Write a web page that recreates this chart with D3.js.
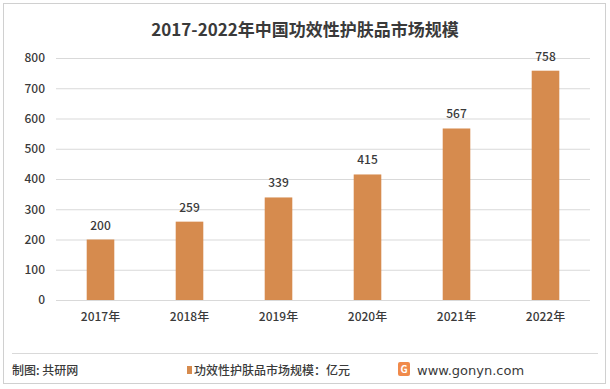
<!DOCTYPE html>
<html>
<head>
<meta charset="utf-8">
<script src="https://cdn.jsdelivr.net/npm/d3@7"></script>
<style>
  body { margin: 0; background: #fff; }
  text { font-family: "Noto Sans CJK SC", "Noto Sans", sans-serif; fill: #3a3a3a; }
</style>
</head>
<body>
<div id="wrapper"></div>
<script>
const years = ["2017年", "2018年", "2019年", "2020年", "2021年", "2022年"]
const marketSize = [200, 259, 339, 415, 567, 758]
const yTicks = [0, 100, 200, 300, 400, 500, 600, 700, 800]

const width = 610
const height = 389
const margin = { top: 58, right: 20, bottom: 89, left: 56 }
const boundedWidth = width - margin.left - margin.right
const boundedHeight = height - margin.top - margin.bottom

const svg = d3.select("#wrapper").append("svg")
  .attr("width", width)
  .attr("height", height)

// frame
svg.append("rect")
  .attr("x", 3.5).attr("y", 3.5)
  .attr("width", 602).attr("height", 380)
  .attr("fill", "none")
  .attr("stroke", "#d0d0d0")

svg.append("text")
  .attr("x", 305).attr("y", 36)
  .attr("text-anchor", "middle")
  .style("font-size", "17px")
  .style("font-weight", "bold")
  .text("2017-2022年中国功效性护肤品市场规模")

const bounds = svg.append("g")
  .attr("transform", `translate(${margin.left},${margin.top})`)

const xScale = d3.scaleBand()
  .domain(years)
  .range([0, boundedWidth])
  .paddingInner(0.69)
  .paddingOuter(0.345)

const yScale = d3.scaleLinear()
  .domain([0, 800])
  .range([boundedHeight, 0])

// grid
bounds.selectAll(".grid")
  .data(yTicks)
  .join("line")
  .attr("x1", 0).attr("x2", boundedWidth)
  .attr("y1", d => yScale(d) + 0.5).attr("y2", d => yScale(d) + 0.5)
  .attr("stroke", "#d9d9d9")

const yAxis = bounds.append("g")
  .call(d3.axisLeft(yScale).tickValues(yTicks).tickSize(0).tickPadding(11))
yAxis.select(".domain").remove()
yAxis.selectAll("text")
  .style("font-size", "12px")
  .style("font-weight", "500")
  .style("font-family", "'Noto Sans CJK SC', sans-serif")
  .style("fill", "#3a3a3a")

const xAxis = bounds.append("g")
  .attr("transform", `translate(0,${boundedHeight})`)
  .call(d3.axisBottom(xScale).tickSize(0).tickPadding(12))
xAxis.select(".domain").remove()
xAxis.selectAll("text")
  .style("font-size", "12px")
  .style("font-weight", "500")
  .style("font-family", "'Noto Sans CJK SC', sans-serif")
  .style("fill", "#3a3a3a")

// bars
bounds.selectAll(".bar")
  .data(marketSize)
  .join("rect")
  .attr("x", (d, i) => xScale(years[i]))
  .attr("y", d => yScale(d))
  .attr("width", xScale.bandwidth())
  .attr("height", d => boundedHeight - yScale(d))
  .attr("fill", "#d68b4e")

bounds.selectAll(".label")
  .data(marketSize)
  .join("text")
  .attr("x", (d, i) => xScale(years[i]) + xScale.bandwidth() / 2)
  .attr("y", d => yScale(d) - 10)
  .attr("text-anchor", "middle")
  .style("font-size", "12px")
  .style("font-weight", "500")
  .text(d => d)

// footer
svg.append("line")
  .attr("x1", 12).attr("x2", 598)
  .attr("y1", 353.5).attr("y2", 353.5)
  .attr("stroke", "#d9d9d9")

svg.append("text")
  .attr("x", 12).attr("y", 375)
  .style("font-size", "12px")
  .style("font-weight", "500")
  .text("制图: 共研网")

svg.append("rect")
  .attr("x", 187).attr("y", 366)
  .attr("width", 5).attr("height", 8)
  .attr("fill", "#d68b4e")

svg.append("text")
  .attr("x", 194).attr("y", 375)
  .style("font-size", "12px")
  .style("font-weight", "500")
  .text("功效性护肤品市场规模：亿元")

// logo
const logo = svg.append("g").attr("transform", "translate(398,362)")
logo.append("rect").attr("width", 12).attr("height", 14).attr("rx", 2).attr("fill", "#f08a4b")
logo.append("text").attr("x", 6).attr("y", 11).attr("text-anchor", "middle")
  .style("font-size", "10px").style("font-weight", "bold").style("fill", "#fff").text("G")

svg.append("text")
  .attr("x", 417).attr("y", 375)
  .style("font-size", "13px")
  .style("font-family", "'DejaVu Sans', sans-serif")
  .text("www.gonyn.com")
</script>
</body>
</html>
